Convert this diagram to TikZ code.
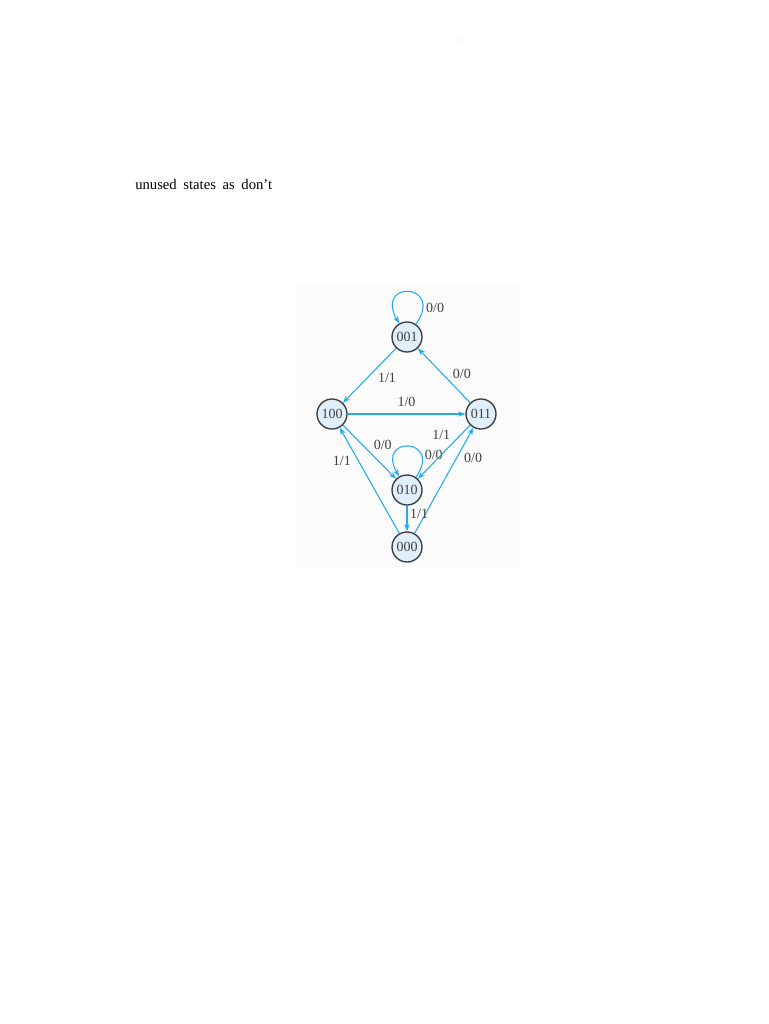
\documentclass[tikz,border=0pt]{standalone}
\usepackage{fontspec}
\setmainfont{Liberation Serif}
\usetikzlibrary{arrows.meta}

\definecolor{edgeblue}{RGB}{35,172,235}
\definecolor{statefill}{RGB}{224,240,251}
\definecolor{stateline}{RGB}{60,60,60}

\begin{document}
\begin{tikzpicture}
  [x=0.75pt,y=-0.75pt,auto=left,
   every node/.style={text=black!75},
   state/.style={circle,draw=stateline,line width=1pt,fill=statefill,
     minimum size=22.5pt,inner sep=0pt,font=\fontsize{10.5}{12}\selectfont},
   lbl/.style={inner sep=2pt,font=\fontsize{10.5}{12}\selectfont},
   trans/.style={draw=edgeblue,line width=0.8pt,-{Stealth[length=5.5pt,width=4pt]}}]
  \useasboundingbox (0,0) rectangle (768,1024);
  \fill[black!1.5] (296,283) rectangle (520,568);
  \fill[gray!60] (462,40) circle (0.5pt);
  \node (txt) at (135,189) [anchor=base west,inner sep=0pt,font=\fontsize{11}{13}\selectfont,text=black]
    {unused\hspace{2.2pt} states\hspace{2.2pt} as\hspace{2.2pt} don't};

  \node[state] (n001) at (407,337) {001};
  \node[state] (n100) at (332,414) {100};
  \node[state] (n011) at (481,414) {011};
  \node[state] (n010) at (407,490) {010};
  \node[state] (n000) at (407,547) {000};

  \draw[trans] (n001) to[out=55,in=120,distance=38pt] node[lbl,pos=.15,right] {0/0} (n001);
  \draw[trans] (n010) to[out=55,in=120,distance=36pt] node[lbl,pos=.25,right] {0/0} (n010);
  \draw[trans] (n001) -- node[lbl,pos=.4,below right] {1/1} (n100);
  \draw[trans] (n011) -- node[lbl,pos=.39,above right] {0/0} (n001);
  \draw[trans] (n100) -- node[lbl,pos=.5,above=3pt] {1/0} (n011);
  \draw[trans] (n100) -- node[lbl,pos=.52,above right] {0/0} (n010);
  \draw[trans] (n011) -- node[lbl,pos=.32,above left] {1/1} (n010);
  \draw[trans] (n000) -- node[lbl,pos=.76,below left] {1/1} (n100);
  \draw[trans] (n000) -- node[lbl,pos=.79,below right] {0/0} (n011);
  \draw[trans] (n010) -- node[lbl,pos=.33,right] {1/1} (n000);
\end{tikzpicture}
\end{document}
